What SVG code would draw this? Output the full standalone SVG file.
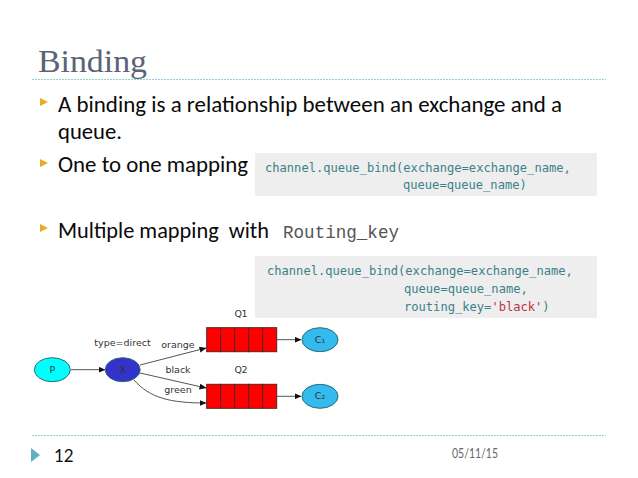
<svg xmlns="http://www.w3.org/2000/svg" width="638" height="478" viewBox="0 0 638 478">
<style>
.body{font-family:"Carlito","Lato","Open Sans",sans-serif;font-size:21.5px;fill:#0a0a0a;white-space:pre}
.code{font-family:"DejaVu Sans Mono",monospace;font-size:12.100px;fill:#3a8288}
.lbl{font-family:"DejaVu Sans",sans-serif;font-size:9.500px;fill:#333}
.edge{fill:none;stroke:#555;stroke-width:1;marker-end:url(#a)}
.node{stroke:#2a6a7a;stroke-width:1}
.cell{fill:#f00;stroke:#5a2020;stroke-width:1}
.rule{stroke:#8fd0dc;stroke-width:1;stroke-dasharray:2 1}
.bullet{fill:#eda82a}
.panel{fill:#eeeeee}
</style>
<defs>
<marker id="a" markerWidth="7" markerHeight="6" refX="6.500" refY="3" orient="auto" markerUnits="userSpaceOnUse"><path d="M0 0L7 3L0 6z" fill="#111"/></marker>
</defs>
<rect width="638" height="478" fill="#fff"/>
<text x="38" y="72" font-family="'Liberation Serif',serif" font-size="32.500" fill="#5a6378" textLength="109" lengthAdjust="spacingAndGlyphs">Binding</text>
<line class="rule" x1="32" y1="79.500" x2="606" y2="79.500"/>
<path class="bullet" d="M40 98L48 102L40 106z"/>
<path class="bullet" d="M40 159L48 163L40 167z"/>
<path class="bullet" d="M40 224L48 228L40 232z"/>
<text class="body" x="58" y="112" textLength="504" lengthAdjust="spacingAndGlyphs">A binding is a relationship between an exchange and a</text>
<text class="body" x="58" y="139" textLength="64" lengthAdjust="spacingAndGlyphs">queue.</text>
<text class="body" x="58" y="172" textLength="190" lengthAdjust="spacingAndGlyphs">One to one mapping</text>
<text class="body" x="58" y="238" textLength="211" lengthAdjust="spacingAndGlyphs">Multiple mapping  with</text>
<text x="283" y="238" font-family="'Liberation Mono',monospace" font-size="17.500" fill="#555" textLength="116" lengthAdjust="spacingAndGlyphs">Routing_key</text>
<rect class="panel" x="255" y="153" width="342" height="43"/>
<text class="code" x="265" y="172">channel.queue_bind(exchange=exchange_name,</text>
<text class="code" x="403" y="189">queue=queue_name)</text>
<rect class="panel" x="255" y="256" width="342" height="62"/>
<text class="code" x="267" y="275">channel.queue_bind(exchange=exchange_name,</text>
<text class="code" x="404" y="293">queue=queue_name,</text>
<text class="code" x="404" y="311">routing_key=<tspan fill="#c0304a">'black'</tspan>)</text>
<g id="connectors">
<path class="edge" d="M71 369.700H105"/>
<path class="edge" d="M140 365L206 348"/>
<path class="edge" d="M140 373L206 388"/>
<path class="edge" d="M134 380C150 398 170 403 206 403"/>
<path class="edge" d="M277 339.700H301"/>
<path class="edge" d="M277 396.300H301"/>
</g>
<g id="P"><ellipse class="node" cx="52.300" cy="369.700" rx="18" ry="12" fill="#00ffff"/><text class="lbl" x="52.300" y="373" text-anchor="middle">P</text></g>
<g id="X"><ellipse class="node" cx="122.700" cy="369.700" rx="17.500" ry="12" fill="#3333cc"/><text class="lbl" x="122.700" y="373" text-anchor="middle">X</text></g>
<g id="Q1">
<rect class="cell" x="206.700" y="327.700" width="14" height="24"/><rect class="cell" x="220.700" y="327.700" width="14" height="24"/><rect class="cell" x="234.700" y="327.700" width="14" height="24"/><rect class="cell" x="248.700" y="327.700" width="14" height="24"/><rect class="cell" x="262.700" y="327.700" width="14" height="24"/>
<text class="lbl" x="241" y="317" text-anchor="middle" textLength="13">Q1</text></g>
<g id="Q2">
<rect class="cell" x="206.700" y="384.300" width="14" height="24"/><rect class="cell" x="220.700" y="384.300" width="14" height="24"/><rect class="cell" x="234.700" y="384.300" width="14" height="24"/><rect class="cell" x="248.700" y="384.300" width="14" height="24"/><rect class="cell" x="262.700" y="384.300" width="14" height="24"/>
<text class="lbl" x="241" y="373" text-anchor="middle" textLength="13">Q2</text></g>
<g id="C1"><ellipse class="node" cx="320" cy="339.700" rx="18" ry="12" fill="#33bbee"/><text class="lbl" x="320" y="342.500" text-anchor="middle">C₁</text></g>
<g id="C2"><ellipse class="node" cx="320" cy="396.300" rx="18" ry="12" fill="#33bbee"/><text class="lbl" x="320" y="399" text-anchor="middle">C₂</text></g>
<text class="lbl" x="122.500" y="346" text-anchor="middle">type=direct</text>
<text class="lbl" x="178" y="348" text-anchor="middle">orange</text>
<text class="lbl" x="178" y="373" text-anchor="middle">black</text>
<text class="lbl" x="178" y="393" text-anchor="middle">green</text>
<line class="rule" x1="32" y1="435.500" x2="606" y2="435.500"/>
<path d="M31 448L40 455L31 462z" fill="#5fb0c0"/>
<text x="54" y="462" font-family="Lato,sans-serif" font-size="17" fill="#111">12</text>
<text x="452" y="458" font-family="Lato,sans-serif" font-size="13" fill="#666" textLength="46" lengthAdjust="spacingAndGlyphs">05/11/15</text>
</svg>
